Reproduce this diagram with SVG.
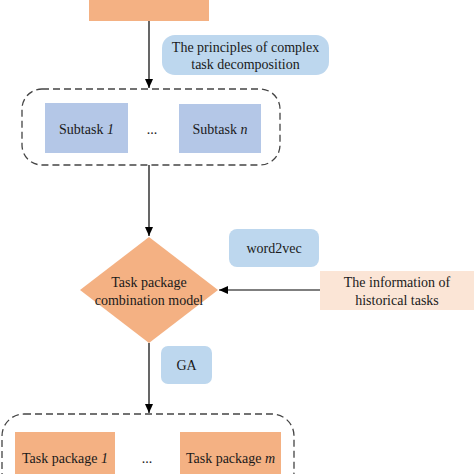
<svg xmlns="http://www.w3.org/2000/svg" width="474" height="474" viewBox="0 0 474 474">
<defs>
<marker id="ah" markerWidth="10" markerHeight="10" refX="9" refY="5" orient="auto" markerUnits="userSpaceOnUse">
<path d="M0,1 L9,5 L0,9 Z" fill="#000"/>
</marker>
<style>
text{font-family:"Liberation Serif","Times New Roman",serif;font-size:14px;fill:#1a1a1a;text-anchor:middle}
.or{fill:#f4b183}
.bl{fill:#bdd7ee}
.sb{fill:#b4c7e7}
.pe{fill:#fbe5d6}
.dash{fill:none;stroke:#444;stroke-width:1.3;stroke-dasharray:7,4}
.ln{stroke:#000;stroke-width:1.2;fill:none}
</style>
</defs>
<rect width="474" height="474" fill="#fff"/>
<g id="connectors">
<line class="ln" x1="149" y1="21" x2="149" y2="88" marker-end="url(#ah)"/>
<line class="ln" x1="149" y1="165" x2="149" y2="236" marker-end="url(#ah)"/>
<line class="ln" x1="320" y1="290" x2="219" y2="290" marker-end="url(#ah)"/>
<line class="ln" x1="149" y1="343" x2="149" y2="413" marker-end="url(#ah)"/>
</g>
<g id="top-node"><rect class="or" x="89" y="-2" width="120" height="23"/></g>
<g id="principles"><rect class="bl" x="162" y="35" width="167" height="40" rx="13"/>
<text x="245.5" y="52">The principles of complex</text><text x="245.5" y="69">task decomposition</text></g>
<g id="subtasks"><rect class="dash" x="22" y="89" width="258" height="76" rx="20"/>
<rect class="sb" x="45" y="103" width="83" height="50"/><text x="86.5" y="134">Subtask <tspan font-style="italic">1</tspan></text>
<text x="152" y="134">...</text>
<rect class="sb" x="179" y="104" width="82" height="49"/><text x="220" y="134">Subtask <tspan font-style="italic">n</tspan></text></g>
<g id="word2vec"><rect class="bl" x="229" y="229" width="90" height="38" rx="8"/><text x="274" y="253">word2vec</text></g>
<g id="model"><polygon class="or" points="149,237 218,290 149,343 80,290"/>
<text x="149" y="287">Task package</text><text x="149" y="305">combination model</text></g>
<g id="history"><rect class="pe" x="320" y="271" width="154" height="39"/>
<text x="397" y="287">The information of</text><text x="397" y="305">historical tasks</text></g>
<g id="ga"><rect class="bl" x="161" y="346" width="51" height="38" rx="7"/><text x="186.5" y="370">GA</text></g>
<g id="packages"><rect class="dash" x="2" y="414" width="292" height="80" rx="22"/>
<rect class="or" x="15" y="432" width="100" height="50"/><text x="65" y="463">Task package <tspan font-style="italic">1</tspan></text>
<text x="147" y="463">...</text>
<rect class="or" x="180" y="432" width="101" height="50"/><text x="230.5" y="463">Task package <tspan font-style="italic">m</tspan></text></g>
</svg>
